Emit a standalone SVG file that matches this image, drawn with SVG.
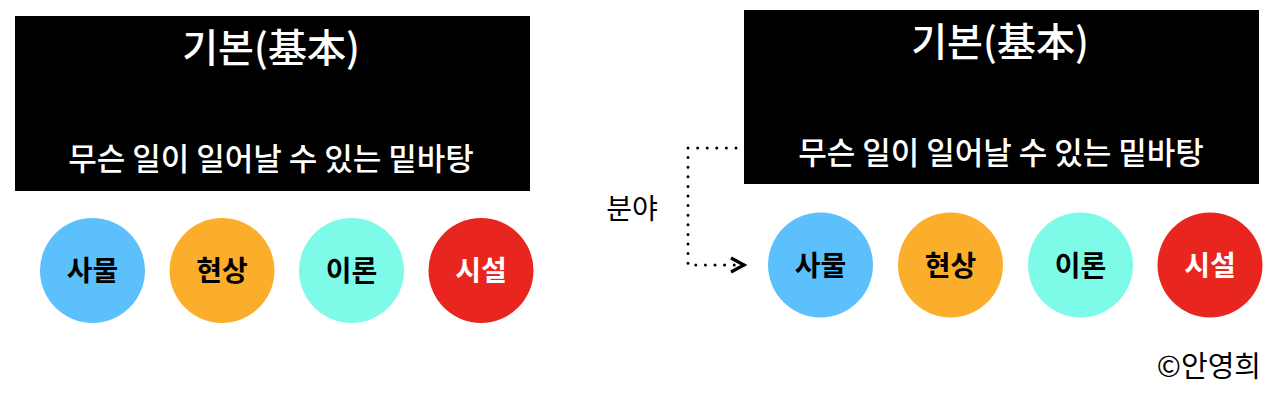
<svg xmlns="http://www.w3.org/2000/svg" width="1280" height="412" viewBox="0 0 1280 412">
  <style>
    text { font-family: "Noto Sans CJK KR", "Noto Sans", sans-serif; text-anchor: middle; }
    .box { fill: #000000; }
    .title { fill: #ffffff; font-size: 39px; font-weight: 500; }
    .sub { fill: #ffffff; font-size: 31px; font-weight: 500; }
    .lbl { font-size: 28px; font-weight: 700; fill: #000000; }
    .lblw { font-size: 28px; font-weight: 700; fill: #ffffff; }
    .c1 { fill: #5BC0FB; }
    .c2 { fill: #FBAE2C; }
    .c3 { fill: #7DFBE8; }
    .c4 { fill: #E8251F; }
    .dot { fill: none; stroke: #000000; stroke-width: 3; stroke-linecap: round; stroke-dasharray: 0 9.6; }
  </style>
  <defs>
    <marker id="chev" markerUnits="userSpaceOnUse" markerWidth="20" markerHeight="20" viewBox="-16 -10 20 20" refX="0" refY="0" orient="auto">
      <polyline points="-13,-7 0,0 -13,7" fill="none" stroke="#000000" stroke-width="3.2" stroke-linejoin="miter"/>
    </marker>
  </defs>

  <rect width="1280" height="412" fill="#ffffff"/>

  <g id="base-left">
    <rect class="box" x="15" y="16" width="515" height="175"/>
    <text class="title" x="271" y="62">기본(基本)</text>
    <text class="sub" x="271" y="170">무슨 일이 일어날 수 있는 밑바탕</text>
  </g>

  <g id="left-samul"><circle class="c1" cx="92.5" cy="270.5" r="52.5"/><text class="lbl" x="92.5" y="281">사물</text></g>
  <g id="left-hyeonsang"><circle class="c2" cx="222" cy="270.5" r="52.5"/><text class="lbl" x="222" y="281">현상</text></g>
  <g id="left-iron"><circle class="c3" cx="351.5" cy="270.5" r="52.5"/><text class="lbl" x="351.5" y="281">이론</text></g>
  <g id="left-siseol"><circle class="c4" cx="481" cy="270.5" r="52.5"/><text class="lblw" x="481" y="281">시설</text></g>

  <g id="base-right">
    <rect class="box" x="744" y="10" width="515" height="174"/>
    <text class="title" x="1000" y="56">기본(基本)</text>
    <text class="sub" x="1001" y="164">무슨 일이 일어날 수 있는 밑바탕</text>
  </g>

  <g id="right-samul"><circle class="c1" cx="820.5" cy="265" r="52.5"/><text class="lbl" x="820.5" y="275.5">사물</text></g>
  <g id="right-hyeonsang"><circle class="c2" cx="950.5" cy="265" r="52.5"/><text class="lbl" x="950.5" y="275.5">현상</text></g>
  <g id="right-iron"><circle class="c3" cx="1080.5" cy="265" r="52.5"/><text class="lbl" x="1080.5" y="275.5">이론</text></g>
  <g id="right-siseol"><circle class="c4" cx="1210" cy="265" r="52.5"/><text class="lblw" x="1210" y="275.5">시설</text></g>

  <g id="connectors">
    <path class="dot" d="M736,148 H688 V265 H744" marker-end="url(#chev)"/>
  </g>

  <g id="label-bunya">
    <text x="632" y="219" style="font-size:28px; font-weight:400; fill:#000000;">분야</text>
  </g>

  <g id="copyright">
    <text x="1261" y="377" style="font-size:29px; font-weight:400; fill:#000000; text-anchor:end;">©안영희</text>
  </g>
</svg>
